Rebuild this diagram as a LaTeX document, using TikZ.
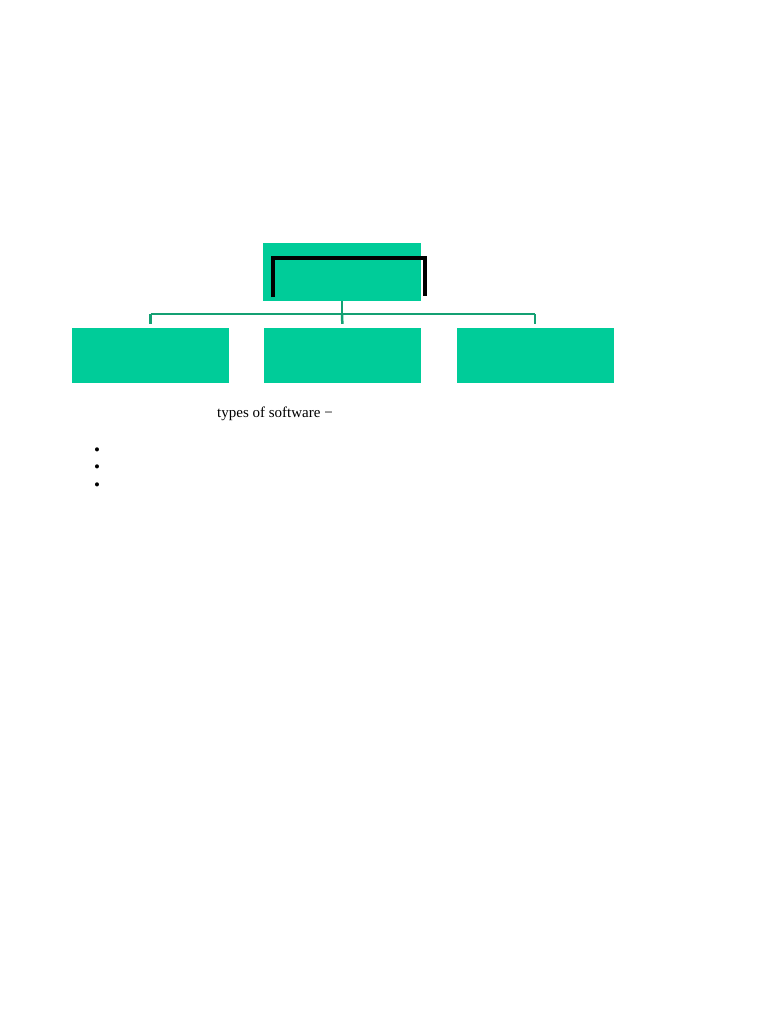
\documentclass[tikz,border=0pt]{standalone}
\usepackage{fontspec}
\setmainfont{Liberation Serif}
\usetikzlibrary{positioning}

\definecolor{boxgreen}{RGB}{0,204,153}
\definecolor{linkgreen}{RGB}{20,160,115}

\begin{document}
\begin{tikzpicture}[
  x=1pt, y=-1pt,
  box/.style={rectangle, fill=boxgreen, minimum width=157pt, minimum height=55pt, inner sep=0pt},
  link/.style={draw=linkgreen, line width=2.5pt},
  bracket/.style={draw=black, line width=4pt},
  dot/.style={inner sep=0pt, font=\fontsize{17}{17}\selectfont},
]
\useasboundingbox (0,0) rectangle (768,1024);
\node[box, minimum width=158pt, minimum height=58pt] (top) at (342,272) {};
\node[box] (sys) at (150.5,355.5) {};
\node[box] (prog) at (342.5,355.5) {};
\node[box] (app) at (535,355.5) {};

\draw[bracket] ([xshift=10pt,yshift=4pt]top.south west) |- ([xshift=4pt,yshift=-15pt]top.north east) -- ([xshift=4pt,yshift=5pt]top.south east);

\draw[link] (top.south) -- ++(0,13) coordinate (mid);
\draw[link] (sys.north |- mid) -- (app.north |- mid);
\draw[link, shorten >=4pt] (sys.north |- mid) -- (sys.north);
\draw[link, shorten >=4pt] (mid) -- (prog.north);
\draw[link, shorten >=4pt] (app.north |- mid) -- (app.north);

\node[anchor=west, inner sep=0pt, font=\fontsize{15}{17}\selectfont] (types) at (217,414) {types of software −};
\node[dot] (d1) at (97,452) {\textbullet};
\node[dot] (d2) at (97,469) {\textbullet};
\node[dot] (d3) at (97,487) {\textbullet};
\end{tikzpicture}
\end{document}
